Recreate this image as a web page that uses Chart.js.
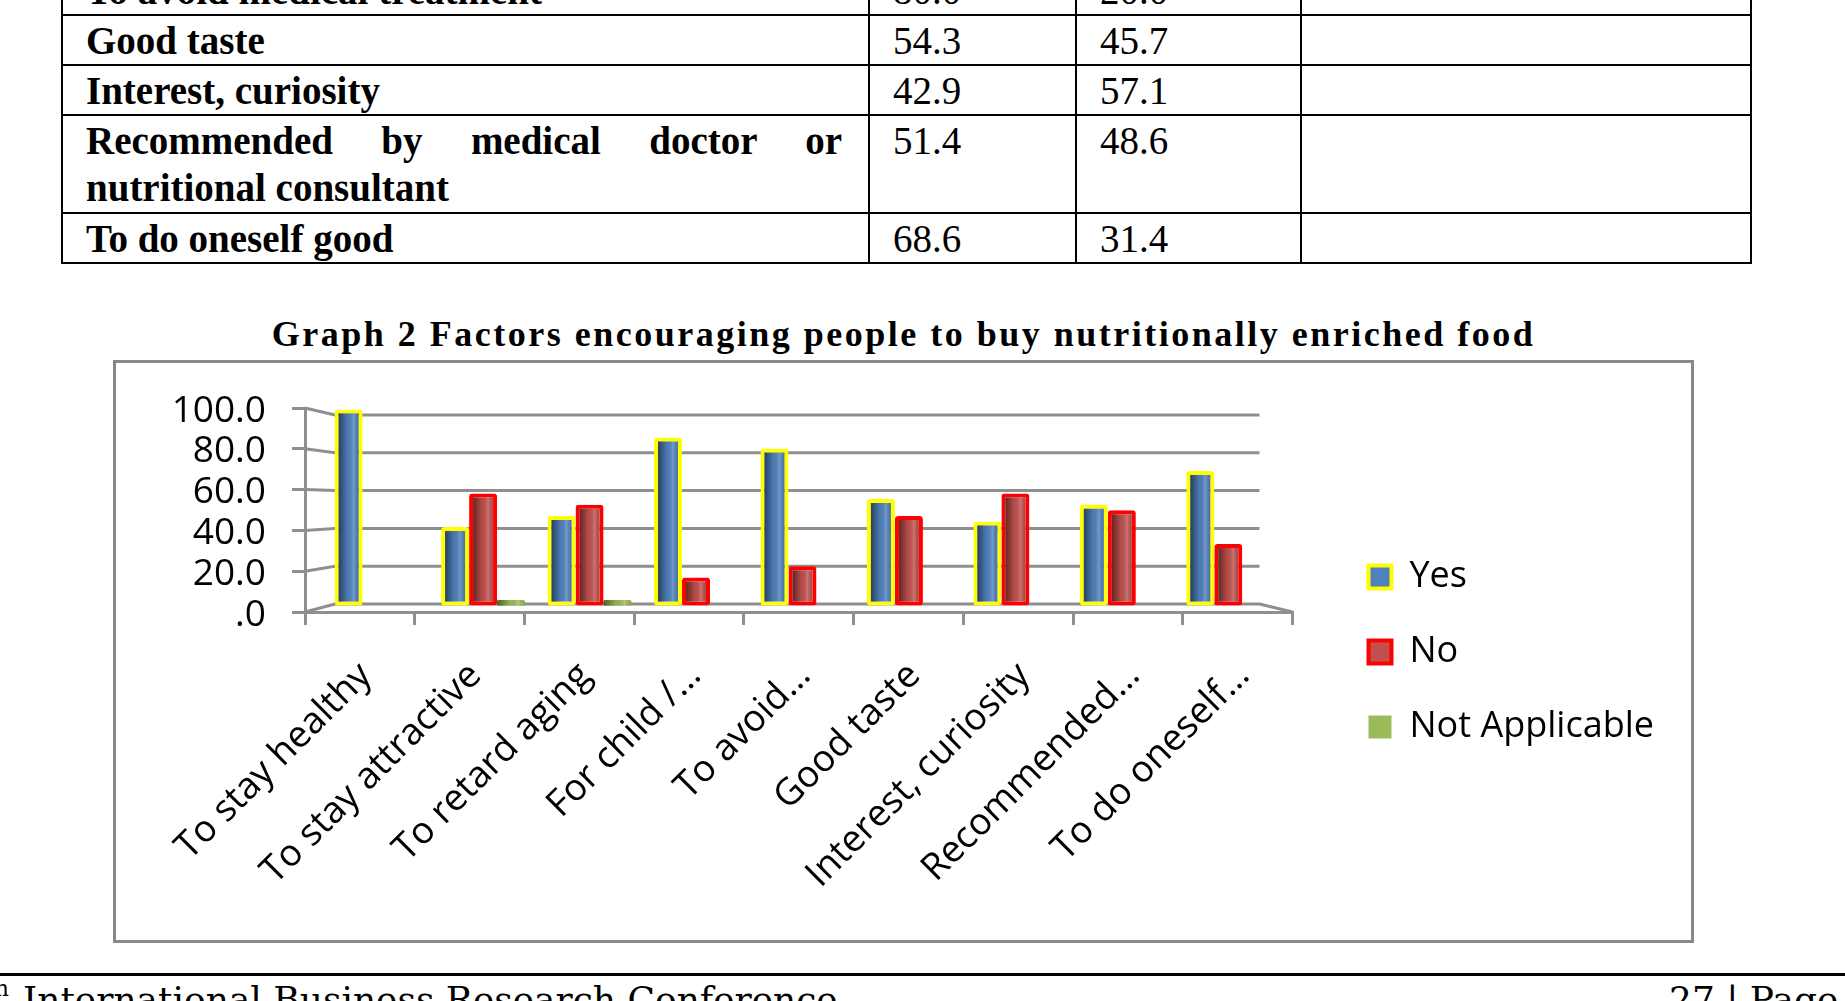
<!DOCTYPE html>
<html>
<head>
<meta charset="utf-8">
<title>Graph 2 Factors encouraging people to buy nutritionally enriched food</title>
<script src="https://cdn.jsdelivr.net/npm/chart.js@4.4.1/dist/chart.umd.min.js"></script>
<style>
  html, body { margin:0; padding:0; background:#fff; }
  body { width:1845px; height:1001px; position:relative; overflow:hidden; color:#000; }

  #facts { position:absolute; left:61px; top:-36px; width:1689px; border-collapse:collapse; table-layout:fixed;
           font-family:'Liberation Serif', serif; font-size:39px; line-height:47px; }
  #facts td { border:2px solid #000; vertical-align:top; padding:1px 26px 0 23px; white-space:nowrap; }
  #facts td.f { font-weight:bold; white-space:normal; }
  #facts .just { text-align:justify; text-align-last:justify; }

  #title { position:absolute; left:113px; top:316px; width:1581px; text-align:center;
           font:bold 36px/36px 'Liberation Serif', serif; letter-spacing:2.5px; white-space:nowrap; }

  #box { position:absolute; left:113px; top:360px; width:1581px; height:583px; box-sizing:border-box;
         border:3px solid #888; }
  #wrap { position:absolute; left:116px; top:363px; width:1575px; height:577px; }

  #rule { position:absolute; left:0; top:973px; width:1845px; height:3px; background:#000; }
  .foot { position:absolute; top:982px; font:36px/36px 'DejaVu Serif', serif; white-space:nowrap; }
  .sup { position:absolute; top:978px; left:-14px; font:22px/22px 'DejaVu Serif', serif; }
</style>
</head>
<body>

<table id="facts">
  <colgroup><col style="width:807px"><col style="width:207px"><col style="width:225px"><col style="width:450px"></colgroup>
  <tr style="height:50px"><td class="f">To avoid medical treatment</td><td>80.0</td><td>20.0</td><td></td></tr>
  <tr style="height:50px"><td class="f">Good taste</td><td>54.3</td><td>45.7</td><td></td></tr>
  <tr style="height:50px"><td class="f">Interest, curiosity</td><td>42.9</td><td>57.1</td><td></td></tr>
  <tr style="height:98px"><td class="f"><div class="just">Recommended by medical doctor or</div>nutritional consultant</td><td>51.4</td><td>48.6</td><td></td></tr>
  <tr style="height:50px"><td class="f">To do oneself good</td><td>68.6</td><td>31.4</td><td></td></tr>
</table>

<div id="title">Graph 2 Factors encouraging people to buy nutritionally enriched food</div>

<div id="box"></div>
<div id="wrap"><canvas id="graph2"></canvas></div>

<div id="rule"></div>
<div class="sup">th</div>
<div class="foot" style="left:23px">International Business Research Conference</div>
<div class="foot" style="left:1669px">27 | Page</div>

<script>
const categories = ['To stay healthy', 'To stay attractive', 'To retard aging', 'For child /…', 'To avoid…',
  'Good taste', 'Interest, curiosity', 'Recommended…', 'To do oneself…']
const yesValues = [100.0, 40.0, 45.7, 85.7, 80.0, 54.3, 42.9, 51.4, 68.6]
const noValues = [0, 57.1, 51.4, 14.3, 20.0, 45.7, 57.1, 48.6, 31.4]
const naValues = [0, 2.9, 2.9, 0, 0, 0, 0, 0, 0]
const seriesNames = ['Yes', 'No', 'Not Applicable']

Chart.defaults.font.family = "'Open Sans', sans-serif"
Chart.defaults.color = '#000'

const gridGray = '#8f8f8f'

const toPoints = (vals) => vals.map((v, i) => ({x: i, y: v}))

const barStyle = {barThickness: 28, borderSkipped: false, borderRadius: 3, inflateAmount: 0, xAxisID: 'xb', yAxisID: 'yb'}

// back wall of the old 3d excel chart: front ticks run into the back gridlines
const wallPlugin = {
  id: 'wall',
  beforeDatasetsDraw(chart) {
    const {ctx, chartArea} = chart
    const front = chart.scales.y
    const back = chart.scales.yw
    const depthL = 30
    const depthR = 33
    ctx.save()
    ctx.strokeStyle = gridGray
    ctx.lineWidth = 3
    ctx.lineJoin = 'round'
    front.ticks.forEach((t) => {
      const yf = front.getPixelForValue(t.value)
      const yk = back.getPixelForValue(t.value)
      ctx.beginPath()
      ctx.moveTo(chartArea.left, yf)
      ctx.lineTo(chartArea.left + depthL, yk)
      ctx.lineTo(chartArea.right - depthR, yk)
      if (t.value === 0) ctx.lineTo(chartArea.right, yf)
      ctx.stroke()
    })
    ctx.restore()
  }
}

// cylinder-ish shading inside every bar
const shadePlugin = {
  id: 'shade',
  afterDatasetsDraw(chart) {
    const ctx = chart.ctx
    chart.data.datasets.forEach((ds, di) => {
      chart.getDatasetMeta(di).data.forEach((bar) => {
        const {x, y, base, width} = bar.getProps(['x', 'y', 'base', 'width'], true)
        const bw = bar.options.borderWidth || 0
        const left = x - width / 2 + bw
        const right = x + width / 2 - bw
        const top = Math.min(y, base) + bw
        const bottom = Math.max(y, base) - bw
        if (bottom - top <= 0 || right - left <= 0) return
        const g = ctx.createLinearGradient(left, 0, right, 0)
        g.addColorStop(0, 'rgba(0,0,0,0.5)')
        g.addColorStop(0.45, 'rgba(0,0,0,0.05)')
        g.addColorStop(0.75, 'rgba(255,255,255,0.2)')
        g.addColorStop(1, 'rgba(0,0,0,0.1)')
        ctx.save()
        ctx.fillStyle = g
        ctx.fillRect(left, top, right - left, bottom - top)
        ctx.restore()
      })
    })
  }
}

// excel leaves a gap between the plot and the legend
const legendGap = {
  id: 'legendGap',
  afterLayout(chart) {
    chart.legend.left += 37
    chart.legend.right += 37
  }
}

new Chart(document.getElementById('graph2'), {
  type: 'bar',
  data: {
    labels: categories,
    datasets: [
      {label: seriesNames[0], data: toPoints(yesValues), backgroundColor: '#4f81bd', borderColor: '#ffff00', borderWidth: 4, ...barStyle},
      {label: seriesNames[1], data: toPoints(noValues), backgroundColor: '#c0504d', borderColor: '#ff0000', borderWidth: 4, ...barStyle},
      {label: seriesNames[2], data: toPoints(naValues), backgroundColor: '#9bbb59', borderColor: '#9bbb59', borderWidth: 0, ...barStyle}
    ]
  },
  options: {
    responsive: true,
    maintainAspectRatio: false,
    animation: false,
    layout: {padding: {top: 45, right: 64, bottom: 44, left: 0}},
    scales: {
      // front axis: ticks and labels
      x: {
        type: 'category',
        offset: true,
        grid: {offset: true, drawOnChartArea: false, tickLength: 13, color: gridGray, lineWidth: 3},
        border: {display: true, color: gridGray, width: 3},
        ticks: {autoSkip: false, maxRotation: 45, minRotation: 45, padding: 29, labelOffset: 6, font: {size: 37}},
        afterFit: (s) => { s.height = 284 }
      },
      y: {
        type: 'linear',
        position: 'left',
        min: 0,
        max: 100,
        ticks: {stepSize: 20, autoSkip: false, padding: 26, labelOffset: 3, font: {size: 37, lineHeight: 1},
          callback: (v) => v === 0 ? '.0' : v.toFixed(1)},
        grid: {drawOnChartArea: false, tickLength: 13, color: gridGray, lineWidth: 3},
        border: {color: gridGray, width: 3},
        afterFit: (s) => { s.width = 189 }
      },
      // the columns stand between the front axis and the back wall
      xb: {type: 'linear', display: false, offset: false, bounds: 'data', min: -0.673, max: 8.603},
      yb: {type: 'linear', display: false, bounds: 'data', min: -3.26, max: 100.71},
      // back wall gridlines
      yw: {type: 'linear', display: false, bounds: 'data', min: -4.23, max: 103.7}
    },
    plugins: {
      legend: {
        position: 'right',
        align: 'center',
        labels: {boxWidth: 23, boxHeight: 23, padding: 39, font: {size: 36}}
      },
      tooltip: {enabled: false}
    }
  },
  plugins: [wallPlugin, shadePlugin, legendGap]
})
</script>
</body>
</html>
